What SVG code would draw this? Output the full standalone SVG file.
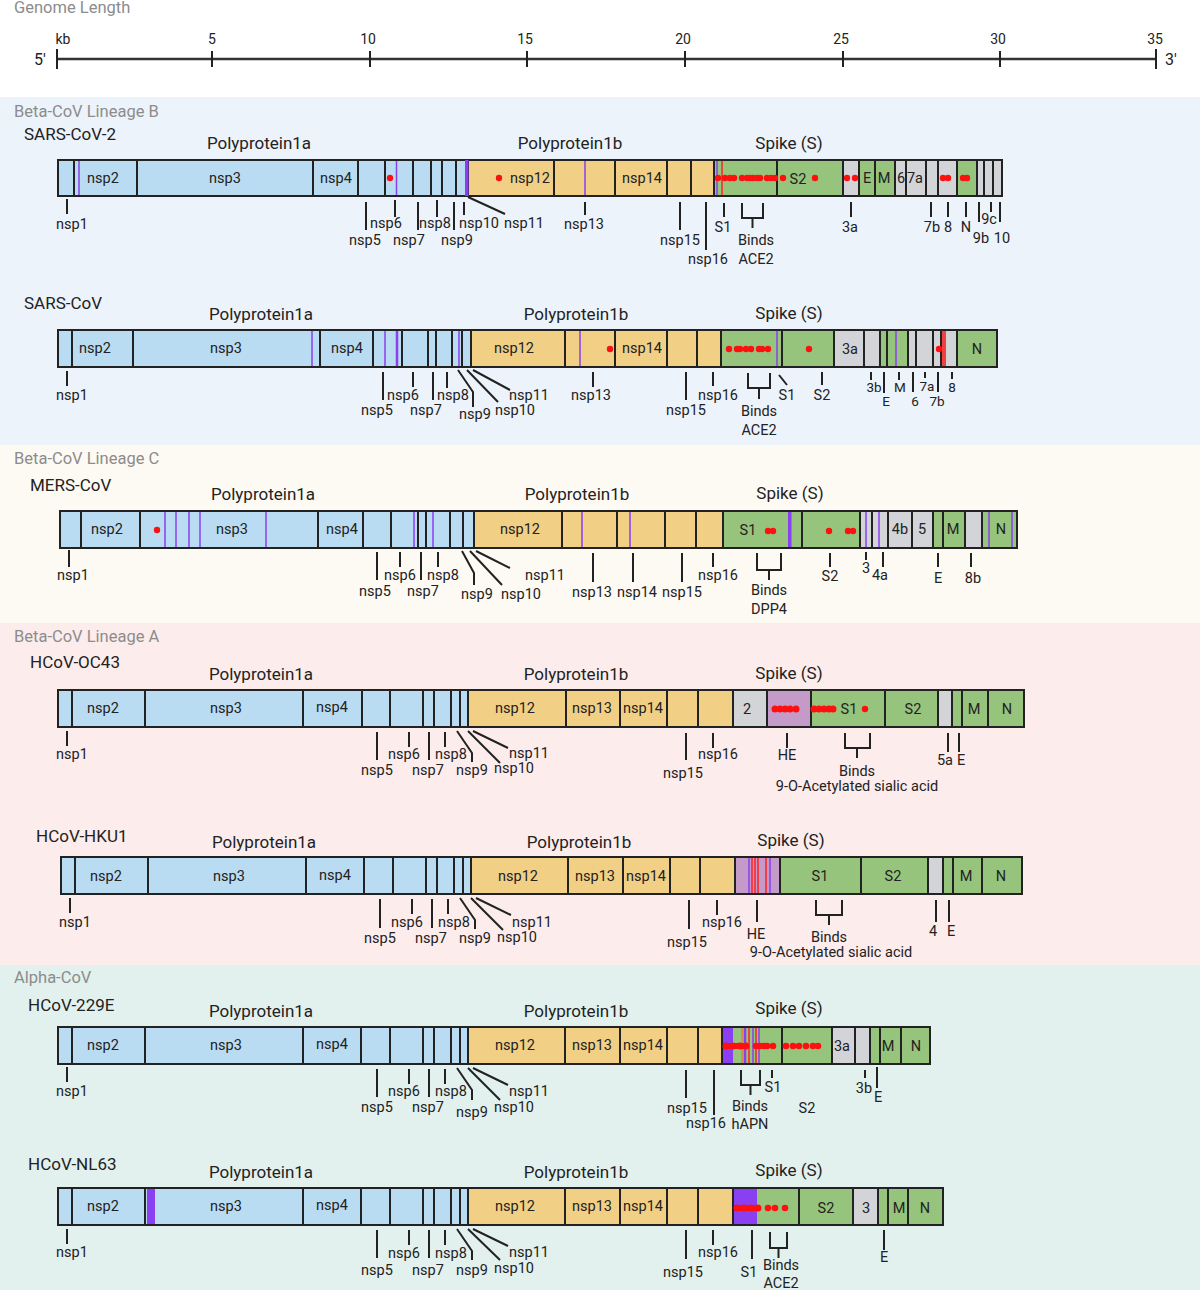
<svg xmlns="http://www.w3.org/2000/svg" width="1200" height="1290" viewBox="0 0 1200 1290">
<style>
text{font-family:Roboto,"Liberation Sans",sans-serif;fill:#222;dominant-baseline:central}
.sec{font-size:16.5px;fill:#8c8c8c}
.nm{font-size:17px}
.pp{font-size:17px;text-anchor:middle}
.bl{font-size:14.5px;text-anchor:middle}
.tl{font-size:14.5px;text-anchor:middle}
.sm{font-size:13.5px}
.ax{font-size:14px;text-anchor:middle}
rect.s{stroke:#222;stroke-width:2}
.b{fill:#badcf3}.y{fill:#f1d086}.g{fill:#97c47c}.r{fill:#d2d4d8}.h{fill:#c49ac9}.p{fill:#8a3ff0}
.pl{stroke:#8a3ff0;stroke-width:1.5}.rl{stroke:#ff2020;stroke-width:1.5}
.dot{fill:#ff1010}
.tk{stroke:#222;stroke-width:2;fill:none}
</style>
<rect x="0" y="0" width="1200" height="97" fill="#ffffff"/>
<rect x="0" y="97" width="1200" height="348" fill="#edf3fb"/>
<rect x="0" y="445" width="1200" height="178" fill="#fdfaf3"/>
<rect x="0" y="623" width="1200" height="342" fill="#fcecec"/>
<rect x="0" y="965" width="1200" height="325" fill="#e2f1ee"/>

<g id="axis">
<text class="sec" x="14" y="7">Genome Length</text>
<line x1="57" y1="59" x2="1156" y2="59" stroke="#333" stroke-width="2.5"/>
<path class="tk" d="M57 49V69M1156 49V69M212 51V67M370 51V67M527 51V67M685 51V67M843 51V67M1000 51V67"/>
<text class="ax" x="63" y="39">kb</text><text class="ax" x="212" y="39">5</text><text class="ax" x="368" y="39">10</text><text class="ax" x="525" y="39">15</text><text class="ax" x="683" y="39">20</text><text class="ax" x="841" y="39">25</text><text class="ax" x="998" y="39">30</text><text class="ax" x="1155" y="39">35</text>
<text x="40" y="59" style="font-size:16px;text-anchor:middle">5'</text><text x="1171" y="59" style="font-size:16px;text-anchor:middle">3'</text>
</g>

<text class="sec" x="14" y="111">Beta-CoV Lineage B</text>
<text class="sec" x="14" y="458">Beta-CoV Lineage C</text>
<text class="sec" x="14" y="636">Beta-CoV Lineage A</text>
<text class="sec" x="14" y="977">Alpha-CoV</text>

<!-- SARS-CoV-2 -->
<g id="sars-cov-2">
<text class="nm" x="24" y="134">SARS-CoV-2</text>
<text class="pp" x="259" y="143">Polyprotein1a</text><text class="pp" x="570" y="143">Polyprotein1b</text><text class="pp" x="789" y="143">Spike (S)</text>
<rect class="s b" x="58" y="160" width="16" height="36"/><rect class="s b" x="74" y="160" width="63" height="36"/><rect class="s b" x="137" y="160" width="176" height="36"/><rect class="s b" x="313" y="160" width="45" height="36"/><rect class="s b" x="358" y="160" width="27" height="36"/><rect class="s b" x="385" y="160" width="28" height="36"/><rect class="s b" x="413" y="160" width="18" height="36"/><rect class="s b" x="431" y="160" width="11" height="36"/><rect class="s b" x="442" y="160" width="14" height="36"/><rect class="s b" x="456" y="160" width="10" height="36"/>
<rect class="s y" x="468" y="160" width="86" height="36"/><rect class="s y" x="554" y="160" width="61" height="36"/><rect class="s y" x="615" y="160" width="52" height="36"/><rect class="s y" x="667" y="160" width="24" height="36"/><rect class="s y" x="691" y="160" width="23" height="36"/>
<rect class="p" x="465" y="160" width="3.5" height="36"/>
<rect class="s g" x="714" y="160" width="63" height="36"/><rect class="s g" x="777" y="160" width="66" height="36"/><rect class="s r" x="843" y="160" width="16" height="36"/><rect class="s g" x="859" y="160" width="16" height="36"/><rect class="s g" x="875" y="160" width="20" height="36"/><rect class="s r" x="895" y="160" width="11" height="36"/><rect class="s r" x="906" y="160" width="20" height="36"/><rect class="s r" x="926" y="160" width="12" height="36"/><rect class="s r" x="938" y="160" width="19" height="36"/><rect class="s g" x="957" y="160" width="20" height="36"/><rect class="s r" x="977" y="160" width="7" height="36"/><rect class="s r" x="984" y="160" width="9" height="36"/><rect class="s r" x="993" y="160" width="9" height="36"/>
<path class="pl" d="M79 161V195M396.5 161V195M585 161V195M717 161V195"/><path class="rl" d="M722 161V195"/>
<g class="dot"><circle cx="390" cy="178" r="3.2"/><circle cx="499" cy="178" r="3.2"/><circle cx="718" cy="178" r="3.2"/><circle cx="725" cy="178" r="3.2"/><circle cx="730" cy="178" r="3.2"/><circle cx="734" cy="178" r="3.2"/><circle cx="742" cy="178" r="3.2"/><circle cx="747" cy="178" r="3.2"/><circle cx="750" cy="178" r="3.2"/><circle cx="753" cy="178" r="3.2"/><circle cx="757" cy="178" r="3.2"/><circle cx="760" cy="178" r="3.2"/><circle cx="767" cy="178" r="3.2"/><circle cx="771" cy="178" r="3.2"/><circle cx="775" cy="178" r="3.2"/><circle cx="783" cy="178" r="3.2"/><circle cx="815" cy="178" r="3.2"/><circle cx="847" cy="178" r="3.2"/><circle cx="855" cy="178" r="3.2"/><circle cx="943" cy="178" r="3.2"/><circle cx="948" cy="178" r="3.2"/><circle cx="963" cy="178" r="3.2"/><circle cx="967" cy="178" r="3.2"/></g>
<text class="bl" x="103" y="178">nsp2</text><text class="bl" x="225" y="178">nsp3</text><text class="bl" x="336" y="178">nsp4</text><text class="bl" x="530" y="178">nsp12</text><text class="bl" x="642" y="178">nsp14</text><text class="bl" x="798" y="179">S2</text><text class="bl" x="867" y="178">E</text><text class="bl" x="884" y="178">M</text><text class="bl" x="901" y="178">6</text><text class="bl" x="915" y="178">7a</text>
<text class="tl" x="72" y="224">nsp1</text><text class="tl" x="365" y="240">nsp5</text><text class="tl" x="386" y="223">nsp6</text><text class="tl" x="409" y="240">nsp7</text><text class="tl" x="435" y="223">nsp8</text><text class="tl" x="457" y="240">nsp9</text><text class="tl" x="479" y="223">nsp10</text><text class="tl" x="524" y="223">nsp11</text><text class="tl" x="584" y="224">nsp13</text><text class="tl" x="680" y="240">nsp15</text><text class="tl" x="708" y="259">nsp16</text><text class="tl" x="723" y="227">S1</text><text class="tl" x="756" y="240">Binds</text><text class="tl" x="756" y="259">ACE2</text><text class="tl" x="850" y="227">3a</text><text class="tl" x="932" y="227">7b</text><text class="tl" x="948" y="227">8</text><text class="tl" x="966" y="227">N</text><text class="tl" x="981" y="238">9b</text><text class="tl" x="989" y="219">9c</text><text class="tl" x="1002" y="238">10</text>
</g>

<!-- SARS-CoV -->
<g id="sars-cov">
<text class="nm" x="24" y="303">SARS-CoV</text>
<text class="pp" x="261" y="314">Polyprotein1a</text><text class="pp" x="576" y="314">Polyprotein1b</text><text class="pp" x="789" y="313">Spike (S)</text>
<rect class="s b" x="58" y="330" width="14" height="37"/><rect class="s b" x="72" y="330" width="61" height="37"/><rect class="s b" x="133" y="330" width="187" height="37"/><rect class="s b" x="320" y="330" width="53" height="37"/><rect class="s b" x="373" y="330" width="29" height="37"/><rect class="s b" x="402" y="330" width="26" height="37"/><rect class="s b" x="428" y="330" width="8" height="37"/><rect class="s b" x="436" y="330" width="16" height="37"/><rect class="s b" x="452" y="330" width="10" height="37"/><rect class="s b" x="462" y="330" width="9" height="37"/>
<rect class="s y" x="471" y="330" width="94" height="37"/><rect class="s y" x="565" y="330" width="50" height="37"/><rect class="s y" x="615" y="330" width="52" height="37"/><rect class="s y" x="667" y="330" width="30" height="37"/><rect class="s y" x="697" y="330" width="24" height="37"/>
<rect class="s g" x="721" y="330" width="61" height="37"/><rect class="s g" x="782" y="330" width="52" height="37"/><rect class="s r" x="834" y="330" width="30" height="37"/><rect class="s r" x="864" y="330" width="16" height="37"/><rect class="s g" x="880" y="330" width="7" height="37"/><rect class="s g" x="887" y="330" width="21" height="37"/><rect class="s r" x="908" y="330" width="8" height="37"/><rect class="s r" x="916" y="330" width="17" height="37"/><rect class="s r" x="933" y="330" width="8" height="37"/><rect class="s r" x="941" y="330" width="16" height="37"/><rect class="s g" x="957" y="330" width="40" height="37"/>
<rect x="942" y="331" width="4" height="35" fill="#f04040"/>
<path class="pl" d="M312 331V366M385 331V366M459 331V366M580 331V366M777 331V366M896 331V366"/><path d="M397 331V366" stroke="#8a3ff0" stroke-width="2.5"/>
<g class="dot"><circle cx="610" cy="349" r="3.2"/><circle cx="729" cy="349" r="3.2"/><circle cx="737" cy="349" r="3.2"/><circle cx="740" cy="349" r="3.2"/><circle cx="746" cy="349" r="3.2"/><circle cx="751" cy="349" r="3.2"/><circle cx="759" cy="349" r="3.2"/><circle cx="762" cy="349" r="3.2"/><circle cx="768" cy="349" r="3.2"/><circle cx="809" cy="349" r="3.2"/><circle cx="939" cy="349" r="3.2"/></g>
<text class="bl" x="95" y="348">nsp2</text><text class="bl" x="226" y="348">nsp3</text><text class="bl" x="347" y="348">nsp4</text><text class="bl" x="514" y="348">nsp12</text><text class="bl" x="642" y="348">nsp14</text><text class="bl" x="850" y="349">3a</text><text class="bl" x="977" y="349">N</text>
<text class="tl" x="72" y="395">nsp1</text><text class="tl" x="377" y="410">nsp5</text><text class="tl" x="403" y="395">nsp6</text><text class="tl" x="426" y="410">nsp7</text><text class="tl" x="453" y="395">nsp8</text><text class="tl" x="475" y="414">nsp9</text><text class="tl" x="515" y="410">nsp10</text><text class="tl" x="529" y="395">nsp11</text><text class="tl" x="591" y="395">nsp13</text><text class="tl" x="686" y="410">nsp15</text><text class="tl" x="718" y="395">nsp16</text><text class="tl" x="759" y="411">Binds</text><text class="tl" x="759" y="430">ACE2</text><text class="tl" x="787" y="395">S1</text><text class="tl" x="822" y="395">S2</text><text class="tl sm" x="874" y="387">3b</text><text class="tl sm" x="886" y="401">E</text><text class="tl sm" x="900" y="387">M</text><text class="tl sm" x="915" y="401">6</text><text class="tl sm" x="927" y="386">7a</text><text class="tl sm" x="937" y="401">7b</text><text class="tl sm" x="952" y="387">8</text>
</g>

<!-- MERS-CoV -->
<g id="mers-cov">
<text class="nm" x="30" y="485">MERS-CoV</text>
<text class="pp" x="263" y="494">Polyprotein1a</text><text class="pp" x="577" y="494">Polyprotein1b</text><text class="pp" x="790" y="493">Spike (S)</text>
<rect class="s b" x="60" y="511" width="21" height="37"/><rect class="s b" x="81" y="511" width="59" height="37"/><rect class="s b" x="140" y="511" width="178" height="37"/><rect class="s b" x="318" y="511" width="45" height="37"/><rect class="s b" x="363" y="511" width="28" height="37"/><rect class="s b" x="391" y="511" width="27" height="37"/><rect class="s b" x="418" y="511" width="8" height="37"/><rect class="s b" x="426" y="511" width="24" height="37"/><rect class="s b" x="450" y="511" width="13" height="37"/><rect class="s b" x="463" y="511" width="11" height="37"/>
<rect class="s y" x="474" y="511" width="88" height="37"/><rect class="s y" x="562" y="511" width="55" height="37"/><rect class="s y" x="617" y="511" width="48" height="37"/><rect class="s y" x="665" y="511" width="31" height="37"/><rect class="s y" x="696" y="511" width="27" height="37"/>
<rect class="s g" x="723" y="511" width="79" height="37"/><rect class="s g" x="802" y="511" width="58" height="37"/><rect class="s r" x="860" y="511" width="12" height="37"/><rect class="s r" x="872" y="511" width="16" height="37"/><rect class="s r" x="888" y="511" width="24" height="37"/><rect class="s r" x="912" y="511" width="21" height="37"/><rect class="s g" x="933" y="511" width="10" height="37"/><rect class="s g" x="943" y="511" width="22" height="37"/><rect class="s r" x="965" y="511" width="17" height="37"/><rect class="s g" x="982" y="511" width="35" height="37"/>
<rect class="p" x="788" y="512" width="3.5" height="35"/>
<path class="pl" d="M165 512V547M176 512V547M189 512V547M200 512V547M266 512V547M414 512V547M433 512V547M582 512V547M630 512V547M866 512V547M879 512V547M989 512V547M1012 512V547"/>
<g class="dot"><circle cx="157" cy="530" r="3.2"/><circle cx="768" cy="531" r="3.2"/><circle cx="773" cy="531" r="3.2"/><circle cx="829" cy="531" r="3.2"/><circle cx="848" cy="531" r="3.2"/><circle cx="853" cy="531" r="3.2"/></g>
<text class="bl" x="107" y="529">nsp2</text><text class="bl" x="232" y="529">nsp3</text><text class="bl" x="342" y="529">nsp4</text><text class="bl" x="520" y="529">nsp12</text><text class="bl" x="748" y="530">S1</text><text class="bl" x="900" y="529">4b</text><text class="bl" x="922" y="529">5</text><text class="bl" x="953" y="529">M</text><text class="bl" x="1001" y="529">N</text>
<text class="tl" x="73" y="575">nsp1</text><text class="tl" x="375" y="591">nsp5</text><text class="tl" x="400" y="575">nsp6</text><text class="tl" x="423" y="591">nsp7</text><text class="tl" x="443" y="575">nsp8</text><text class="tl" x="477" y="594">nsp9</text><text class="tl" x="521" y="594">nsp10</text><text class="tl" x="545" y="575">nsp11</text><text class="tl" x="592" y="592">nsp13</text><text class="tl" x="637" y="592">nsp14</text><text class="tl" x="682" y="592">nsp15</text><text class="tl" x="718" y="575">nsp16</text><text class="tl" x="769" y="590">Binds</text><text class="tl" x="769" y="609">DPP4</text><text class="tl" x="830" y="576">S2</text><text class="tl" x="866" y="568">3</text><text class="tl" x="880" y="575">4a</text><text class="tl" x="938" y="578">E</text><text class="tl" x="973" y="578">8b</text>
</g>

<!-- HCoV-OC43 -->
<g id="hcov-oc43">
<text class="nm" x="30" y="662">HCoV-OC43</text>
<text class="pp" x="261" y="674">Polyprotein1a</text><text class="pp" x="576" y="674">Polyprotein1b</text><text class="pp" x="789" y="673">Spike (S)</text>
<rect class="s b" x="58" y="690" width="14" height="37"/><rect class="s b" x="72" y="690" width="73" height="37"/><rect class="s b" x="145" y="690" width="158" height="37"/><rect class="s b" x="303" y="690" width="59" height="37"/><rect class="s b" x="362" y="690" width="28" height="37"/><rect class="s b" x="390" y="690" width="33" height="37"/><rect class="s b" x="423" y="690" width="11" height="37"/><rect class="s b" x="434" y="690" width="17" height="37"/><rect class="s b" x="451" y="690" width="9" height="37"/><rect class="s b" x="460" y="690" width="8" height="37"/>
<rect class="s y" x="468" y="690" width="98" height="37"/><rect class="s y" x="566" y="690" width="54" height="37"/><rect class="s y" x="620" y="690" width="47" height="37"/><rect class="s y" x="667" y="690" width="31" height="37"/><rect class="s y" x="698" y="690" width="35" height="37"/>
<rect class="s r" x="733" y="690" width="34" height="37"/><rect class="s h" x="767" y="690" width="44" height="37"/><rect class="s g" x="811" y="690" width="74" height="37"/><rect class="s g" x="885" y="690" width="53" height="37"/><rect class="s r" x="938" y="690" width="14" height="37"/><rect class="s g" x="952" y="690" width="10" height="37"/><rect class="s g" x="962" y="690" width="26" height="37"/><rect class="s g" x="988" y="690" width="36" height="37"/>
<g class="dot"><circle cx="775" cy="709" r="3.5"/><circle cx="780" cy="709" r="3.5"/><circle cx="785" cy="709" r="3.5"/><circle cx="790" cy="709" r="3.5"/><circle cx="796" cy="709" r="3.5"/><circle cx="814" cy="709" r="3.5"/><circle cx="819" cy="709" r="3.5"/><circle cx="824" cy="709" r="3.5"/><circle cx="829" cy="709" r="3.5"/><circle cx="833" cy="709" r="3.5"/><circle cx="865" cy="709" r="3.2"/></g>
<text class="bl" x="103" y="708">nsp2</text><text class="bl" x="226" y="708">nsp3</text><text class="bl" x="332" y="707">nsp4</text><text class="bl" x="515" y="708">nsp12</text><text class="bl" x="592" y="708">nsp13</text><text class="bl" x="643" y="708">nsp14</text><text class="bl" x="747" y="709">2</text><text class="bl" x="849" y="709">S1</text><text class="bl" x="913" y="709">S2</text><text class="bl" x="974" y="709">M</text><text class="bl" x="1007" y="709">N</text>
<text class="tl" x="72" y="754">nsp1</text><text class="tl" x="377" y="770">nsp5</text><text class="tl" x="404" y="754">nsp6</text><text class="tl" x="428" y="770">nsp7</text><text class="tl" x="451" y="754">nsp8</text><text class="tl" x="472" y="770">nsp9</text><text class="tl" x="514" y="768">nsp10</text><text class="tl" x="529" y="753">nsp11</text><text class="tl" x="683" y="773">nsp15</text><text class="tl" x="718" y="754">nsp16</text><text class="tl" x="787" y="755">HE</text><text class="tl" x="857" y="771">Binds</text><text class="tl" x="857" y="786">9-O-Acetylated sialic acid</text><text class="tl" x="945" y="760">5a</text><text class="tl" x="961" y="760">E</text>
</g>

<!-- HCoV-HKU1 -->
<g id="hcov-hku1">
<text class="nm" x="36" y="836">HCoV-HKU1</text>
<text class="pp" x="264" y="842">Polyprotein1a</text><text class="pp" x="579" y="842">Polyprotein1b</text><text class="pp" x="791" y="840">Spike (S)</text>
<rect class="s b" x="61" y="857" width="14" height="37"/><rect class="s b" x="75" y="857" width="73" height="37"/><rect class="s b" x="148" y="857" width="158" height="37"/><rect class="s b" x="306" y="857" width="58" height="37"/><rect class="s b" x="364" y="857" width="29" height="37"/><rect class="s b" x="393" y="857" width="33" height="37"/><rect class="s b" x="426" y="857" width="11" height="37"/><rect class="s b" x="437" y="857" width="17" height="37"/><rect class="s b" x="454" y="857" width="9" height="37"/><rect class="s b" x="463" y="857" width="8" height="37"/>
<rect class="s y" x="471" y="857" width="97" height="37"/><rect class="s y" x="568" y="857" width="55" height="37"/><rect class="s y" x="623" y="857" width="47" height="37"/><rect class="s y" x="670" y="857" width="30" height="37"/><rect class="s y" x="700" y="857" width="35" height="37"/>
<rect class="s h" x="735" y="857" width="45" height="37"/><rect class="s g" x="780" y="857" width="81" height="37"/><rect class="s g" x="861" y="857" width="67" height="37"/><rect class="s r" x="928" y="857" width="15" height="37"/><rect class="s g" x="943" y="857" width="10" height="37"/><rect class="s g" x="953" y="857" width="29" height="37"/><rect class="s g" x="982" y="857" width="40" height="37"/>
<path class="rl" d="M752 858V893M755 858V893M758 858V893M766 858V893"/><path class="pl" d="M749 858V893M770 858V893"/>
<text class="bl" x="106" y="876">nsp2</text><text class="bl" x="229" y="876">nsp3</text><text class="bl" x="335" y="875">nsp4</text><text class="bl" x="518" y="876">nsp12</text><text class="bl" x="595" y="876">nsp13</text><text class="bl" x="646" y="876">nsp14</text><text class="bl" x="820" y="876">S1</text><text class="bl" x="893" y="876">S2</text><text class="bl" x="966" y="876">M</text><text class="bl" x="1001" y="876">N</text>
<text class="tl" x="75" y="922">nsp1</text><text class="tl" x="380" y="938">nsp5</text><text class="tl" x="407" y="922">nsp6</text><text class="tl" x="431" y="938">nsp7</text><text class="tl" x="454" y="922">nsp8</text><text class="tl" x="475" y="938">nsp9</text><text class="tl" x="517" y="937">nsp10</text><text class="tl" x="532" y="922">nsp11</text><text class="tl" x="687" y="942">nsp15</text><text class="tl" x="722" y="922">nsp16</text><text class="tl" x="756" y="934">HE</text><text class="tl" x="829" y="937">Binds</text><text class="tl" x="831" y="952">9-O-Acetylated sialic acid</text><text class="tl" x="933" y="931">4</text><text class="tl" x="951" y="931">E</text>
</g>

<!-- HCoV-229E -->
<g id="hcov-229e">
<text class="nm" x="28" y="1005">HCoV-229E</text>
<text class="pp" x="261" y="1011">Polyprotein1a</text><text class="pp" x="576" y="1011">Polyprotein1b</text><text class="pp" x="789" y="1008">Spike (S)</text>
<rect class="s b" x="58" y="1027" width="14" height="37"/><rect class="s b" x="72" y="1027" width="73" height="37"/><rect class="s b" x="145" y="1027" width="158" height="37"/><rect class="s b" x="303" y="1027" width="58" height="37"/><rect class="s b" x="361" y="1027" width="29" height="37"/><rect class="s b" x="390" y="1027" width="33" height="37"/><rect class="s b" x="423" y="1027" width="11" height="37"/><rect class="s b" x="434" y="1027" width="17" height="37"/><rect class="s b" x="451" y="1027" width="9" height="37"/><rect class="s b" x="460" y="1027" width="8" height="37"/>
<rect class="s y" x="468" y="1027" width="97" height="37"/><rect class="s y" x="565" y="1027" width="55" height="37"/><rect class="s y" x="620" y="1027" width="47" height="37"/><rect class="s y" x="667" y="1027" width="31" height="37"/><rect class="s y" x="698" y="1027" width="24" height="37"/>
<rect class="s g" x="722" y="1027" width="60" height="37"/><rect class="p" x="723" y="1028" width="10" height="35"/><rect class="s g" x="782" y="1027" width="50" height="37"/><rect class="s r" x="832" y="1027" width="23" height="37"/><rect class="s r" x="855" y="1027" width="15" height="37"/><rect class="s g" x="870" y="1027" width="10" height="37"/><rect class="s g" x="880" y="1027" width="21" height="37"/><rect class="s g" x="901" y="1027" width="29" height="37"/>
<path d="M742 1028V1063" stroke="#e08040" stroke-width="1.5"/><path d="M745 1028V1063" stroke="#8a3ff0" stroke-width="2.5"/><path class="rl" d="M749 1028V1063M756 1028V1063"/><path class="pl" d="M753 1028V1063M759 1028V1063"/>
<rect x="723" y="1043" width="25" height="6" fill="#ff1010"/>
<g class="dot"><circle cx="726" cy="1046" r="3.5"/><circle cx="733" cy="1046" r="3.5"/><circle cx="740" cy="1046" r="3.5"/><circle cx="746" cy="1046" r="3.5"/><circle cx="756" cy="1046" r="3.3"/><circle cx="760" cy="1046" r="3.3"/><circle cx="764" cy="1046" r="3.3"/><circle cx="767" cy="1046" r="3.3"/><circle cx="773" cy="1046" r="3.3"/><circle cx="786" cy="1046" r="3.3"/><circle cx="793" cy="1046" r="3.3"/><circle cx="799" cy="1046" r="3.3"/><circle cx="806" cy="1046" r="3.3"/><circle cx="813" cy="1046" r="3.3"/><circle cx="818" cy="1046" r="3.3"/></g>
<text class="bl" x="103" y="1045">nsp2</text><text class="bl" x="226" y="1045">nsp3</text><text class="bl" x="332" y="1044">nsp4</text><text class="bl" x="515" y="1045">nsp12</text><text class="bl" x="592" y="1045">nsp13</text><text class="bl" x="643" y="1045">nsp14</text><text class="bl" x="842" y="1046">3a</text><text class="bl" x="888" y="1046">M</text><text class="bl" x="916" y="1046">N</text>
<text class="tl" x="72" y="1091">nsp1</text><text class="tl" x="377" y="1107">nsp5</text><text class="tl" x="404" y="1091">nsp6</text><text class="tl" x="428" y="1107">nsp7</text><text class="tl" x="451" y="1091">nsp8</text><text class="tl" x="472" y="1112">nsp9</text><text class="tl" x="514" y="1107">nsp10</text><text class="tl" x="529" y="1091">nsp11</text><text class="tl" x="687" y="1108">nsp15</text><text class="tl" x="706" y="1123">nsp16</text><text class="tl" x="750" y="1106">Binds</text><text class="tl" x="750" y="1124">hAPN</text><text class="tl" x="773" y="1087">S1</text><text class="tl" x="807" y="1108">S2</text><text class="tl" x="864" y="1088">3b</text><text class="tl" x="878" y="1097">E</text>
</g>

<!-- HCoV-NL63 -->
<g id="hcov-nl63">
<text class="nm" x="28" y="1164">HCoV-NL63</text>
<text class="pp" x="261" y="1172">Polyprotein1a</text><text class="pp" x="576" y="1172">Polyprotein1b</text><text class="pp" x="789" y="1170">Spike (S)</text>
<rect class="s b" x="58" y="1188" width="14" height="37"/><rect class="s b" x="72" y="1188" width="73" height="37"/><rect class="s b" x="145" y="1188" width="158" height="37"/><rect class="s b" x="303" y="1188" width="58" height="37"/><rect class="s b" x="361" y="1188" width="29" height="37"/><rect class="s b" x="390" y="1188" width="33" height="37"/><rect class="s b" x="423" y="1188" width="11" height="37"/><rect class="s b" x="434" y="1188" width="17" height="37"/><rect class="s b" x="451" y="1188" width="9" height="37"/><rect class="s b" x="460" y="1188" width="8" height="37"/>
<rect class="p" x="147" y="1189" width="8" height="35"/>
<rect class="s y" x="468" y="1188" width="97" height="37"/><rect class="s y" x="565" y="1188" width="55" height="37"/><rect class="s y" x="620" y="1188" width="47" height="37"/><rect class="s y" x="667" y="1188" width="31" height="37"/><rect class="s y" x="698" y="1188" width="35" height="37"/>
<rect class="s g" x="733" y="1188" width="66" height="37"/><rect class="p" x="734" y="1189" width="23" height="35"/><rect class="s g" x="799" y="1188" width="54" height="37"/><rect class="s r" x="853" y="1188" width="25" height="37"/><rect class="s g" x="878" y="1188" width="10" height="37"/><rect class="s g" x="888" y="1188" width="20" height="37"/><rect class="s g" x="908" y="1188" width="35" height="37"/>
<rect x="735" y="1205" width="25" height="6" fill="#ff1010"/>
<g class="dot"><circle cx="737" cy="1208" r="3.5"/><circle cx="744" cy="1208" r="3.5"/><circle cx="751" cy="1208" r="3.5"/><circle cx="758" cy="1208" r="3.5"/><circle cx="768" cy="1208" r="3.3"/><circle cx="775" cy="1208" r="3.3"/><circle cx="785" cy="1208" r="3.3"/></g>
<text class="bl" x="103" y="1206">nsp2</text><text class="bl" x="226" y="1206">nsp3</text><text class="bl" x="332" y="1205">nsp4</text><text class="bl" x="515" y="1206">nsp12</text><text class="bl" x="592" y="1206">nsp13</text><text class="bl" x="643" y="1206">nsp14</text><text class="bl" x="826" y="1208">S2</text><text class="bl" x="866" y="1208">3</text><text class="bl" x="899" y="1208">M</text><text class="bl" x="925" y="1208">N</text>
<text class="tl" x="72" y="1252">nsp1</text><text class="tl" x="377" y="1270">nsp5</text><text class="tl" x="404" y="1253">nsp6</text><text class="tl" x="428" y="1270">nsp7</text><text class="tl" x="451" y="1253">nsp8</text><text class="tl" x="472" y="1270">nsp9</text><text class="tl" x="514" y="1268">nsp10</text><text class="tl" x="529" y="1252">nsp11</text><text class="tl" x="683" y="1272">nsp15</text><text class="tl" x="718" y="1252">nsp16</text><text class="tl" x="749" y="1272">S1</text><text class="tl" x="781" y="1265">Binds</text><text class="tl" x="781" y="1283">ACE2</text><text class="tl" x="884" y="1257">E</text>
</g>

<g id="connectors" class="tk">
<path d="M67 199V214M366 202V230M395 200V217M418 202V230M437 200V217M454 202V230M464 202V215M468 197L505 214M585 202V215M680 202V230M706 202V250M724 203V217M742 203V218H763V203M752.5 218V228M851 202V217M931 202V217M948 202V217M966 202V217M979 202V222M991 202V212M1000 202V222"/>
<path d="M67 371V386M383 372V400M413 372V387M433 372V400M447 372V388M458 370L473 392V407M467 370L498 402M473 370L510 390M593 372V387M686 372V400M713 372V386M748 373V388H770V373M759 388V399M779 375L787 385M822 372V385M871 372V380M884 372V393M899 372V380M913 372V392M925 372V378M938 372V392M952 372V379"/>
<path d="M69 550V567M377 552V580M400 552V567M421 552V580M438 552V567M462 551L474 573V585M470 551L502 585M476 551L510 568M593 553V582M633 553V582M682 553V582M713 553V567M757 553V570H781V553M769 570V580M830 553V567M866 552V560M883 552V567M938 553V567M971 553V567"/>
<path d="M67 731V746M377 732V760M409 732V747M429 732V760M445 732V747M457 731L472 753V762M468 731L500 763M473 731L508 748M686 733V760M713 733V748M787 733V748M845 733V748H870V733M857 748V758M948 733V752M959 733V752"/>
<path d="M70 898V913M380 899V928M412 899V914M432 899V928M448 899V914M460 898L475 920V929M471 898L503 930M476 898L511 915M689 900V929M717 900V915M757 900V922M816 900V915H842V900M829 915V925M936 900V922M949 900V922"/>
<path d="M67 1067V1082M377 1069V1097M409 1069V1084M429 1069V1097M445 1069V1084M457 1068L472 1090V1100M468 1068L500 1100M473 1068L508 1085M686 1070V1098M714 1070V1115M741 1070V1085H760V1070M750.5 1085V1095M772 1070V1078M865 1070V1078M877 1067V1088"/>
<path d="M67 1229V1244M377 1230V1258M409 1230V1245M429 1230V1258M445 1230V1245M457 1229L472 1251V1260M468 1229L500 1260M473 1229L508 1246M686 1230V1259M713 1230V1245M752 1230V1259M770 1232V1248H787V1232M778.5 1248V1258M884 1230V1250"/>
</g>
</svg>
